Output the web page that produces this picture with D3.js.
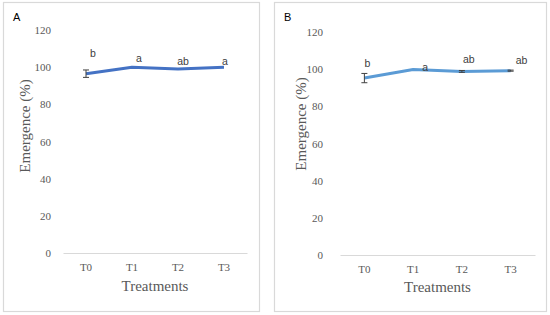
<!DOCTYPE html>
<html>
<head>
<meta charset="utf-8">
<script src="https://cdn.jsdelivr.net/npm/d3@7"></script>
<style>
  body { margin: 0; background: #fff; }
  svg { display: block; }
</style>
</head>
<body>
<div id="chart"></div>
<script>
// data
var treatments = ["T0", "T1", "T2", "T3"];
var yTicks = [0, 20, 40, 60, 80, 100, 120];

var meansA = [96.5, 100, 99, 100];
var errA = [2, 0, 0, 0];
var lettersA = ["b", "a", "ab", "a"];

var meansB = [95.2, 99.8, 98.8, 99.2];
var errB = [2.5, 0, 0.5, 0.3];
var lettersB = ["b", "a", "ab", "ab"];

var width = 550, height = 315;
var serif = "'Liberation Serif', 'Times New Roman', serif";
var sans = "'Liberation Sans', Arial, sans-serif";

var svg = d3.select("#chart")
    .append("svg")
    .attr("width", width)
    .attr("height", height);

function drawPanel(cfg){
    var g = svg.append("g");

    // panel frame
    g.append("rect")
        .attr("x", cfg.box[0] + 0.5)
        .attr("y", cfg.box[1] + 0.5)
        .attr("width", cfg.box[2] - cfg.box[0])
        .attr("height", cfg.box[3] - cfg.box[1])
        .attr("fill", "#fff")
        .attr("stroke", "#d9d9d9")
        .attr("stroke-width", 1.2);

    g.append("text")
        .attr("x", cfg.box[0] + 10)
        .attr("y", cfg.box[1] + 19)
        .style("font-family", sans)
        .style("font-size", "11px")
        .attr("fill", "#000")
        .text(cfg.tag);

    var x = d3.scaleBand()
        .domain(treatments)
        .range([cfg.x0, cfg.x1]);

    var y = d3.scaleLinear()
        .domain([0, 120])
        .range([cfg.y0, cfg.y1]);

    // y tick labels (no axis line)
    var yAxis = d3.axisLeft(y).tickValues(yTicks).tickSize(0).tickPadding(0);
    var ya = g.append("g")
        .attr("transform", `translate(${cfg.yLabX},0)`)
        .call(yAxis);
    ya.select(".domain").remove();
    ya.selectAll("text")
        .style("font-family", serif)
        .style("font-size", "11px")
        .attr("fill", "#595959");

    // x axis
    var xAxis = d3.axisBottom(x).tickSize(0).tickPadding(10);
    var xa = g.append("g")
        .attr("transform", `translate(0,${cfg.y0})`)
        .call(xAxis);
    xa.select(".domain")
        .attr("stroke", "#d9d9d9")
        .attr("stroke-width", 1.2);
    xa.selectAll("text")
        .style("font-family", serif)
        .style("font-size", "11px")
        .attr("fill", "#595959");

    // axis titles
    g.append("text")
        .attr("x", (cfg.x0 + cfg.x1) / 2)
        .attr("y", cfg.xTitleY)
        .attr("text-anchor", "middle")
        .style("font-family", serif)
        .style("font-size", "15px")
        .attr("fill", "#595959")
        .text("Treatments");

    g.append("text")
        .attr("transform", `translate(${cfg.yTitleX},${cfg.yTitleY}) rotate(-90)`)
        .attr("text-anchor", "middle")
        .style("font-family", serif)
        .style("font-size", "15px")
        .attr("fill", "#595959")
        .text("Emergence (%)");

    var cx = d => x(d) + x.bandwidth() / 2;
    var pts = treatments.map((t, i) => ({t: t, v: cfg.means[i], e: cfg.err[i], l: cfg.letters[i], i: i}));

    // line
    var line = d3.line()
        .x(d => cx(d.t))
        .y(d => y(d.v));
    g.append("path")
        .datum(pts)
        .attr("d", line)
        .attr("fill", "none")
        .attr("stroke", cfg.color)
        .attr("stroke-width", 3)
        .attr("stroke-linejoin", "round");

    // error bars
    var eb = g.selectAll(".err")
        .data(pts.filter(d => d.e > 0))
        .enter()
        .append("g")
        .attr("class", "err")
        .attr("stroke", "#404040")
        .attr("stroke-width", 1);
    eb.append("line")
        .attr("x1", d => cx(d.t)).attr("x2", d => cx(d.t))
        .attr("y1", d => y(d.v + d.e)).attr("y2", d => y(d.v - d.e));
    eb.append("line")
        .attr("x1", d => cx(d.t) - 3).attr("x2", d => cx(d.t) + 3)
        .attr("y1", d => y(d.v + d.e)).attr("y2", d => y(d.v + d.e));
    eb.append("line")
        .attr("x1", d => cx(d.t) - 3).attr("x2", d => cx(d.t) + 3)
        .attr("y1", d => y(d.v - d.e)).attr("y2", d => y(d.v - d.e));

    // significance letters
    g.selectAll(".lett")
        .data(pts)
        .enter()
        .append("text")
        .attr("class", "lett")
        .attr("x", d => cx(d.t) + cfg.letDx[d.i])
        .attr("y", d => y(d.v) - cfg.letDy[d.i])
        .attr("text-anchor", "middle")
        .style("font-family", sans)
        .style("font-size", "10.5px")
        .attr("fill", "#404040")
        .text(d => d.l);
}

drawPanel({
    tag: "A", box: [3, 2, 259, 311],
    x0: 63, x1: 247, y0: 253, y1: 30,
    yLabX: 51, xTitleY: 291, yTitleX: 30, yTitleY: 126,
    means: meansA, err: errA, letters: lettersA,
    color: "#4472C4",
    letDx: [7, 7, 5, 1], letDy: [17, 5, 4, 2]
});

drawPanel({
    tag: "B", box: [274, 2, 546, 311],
    x0: 340, x1: 535, y0: 255, y1: 32,
    yLabX: 323, xTitleY: 292, yTitleX: 306, yTitleY: 124,
    means: meansB, err: errB, letters: lettersB,
    color: "#5B9BD5",
    letDx: [3, 12, 7, 11], letDy: [11, -1, 8, 7]
});
</script>
</body>
</html>
